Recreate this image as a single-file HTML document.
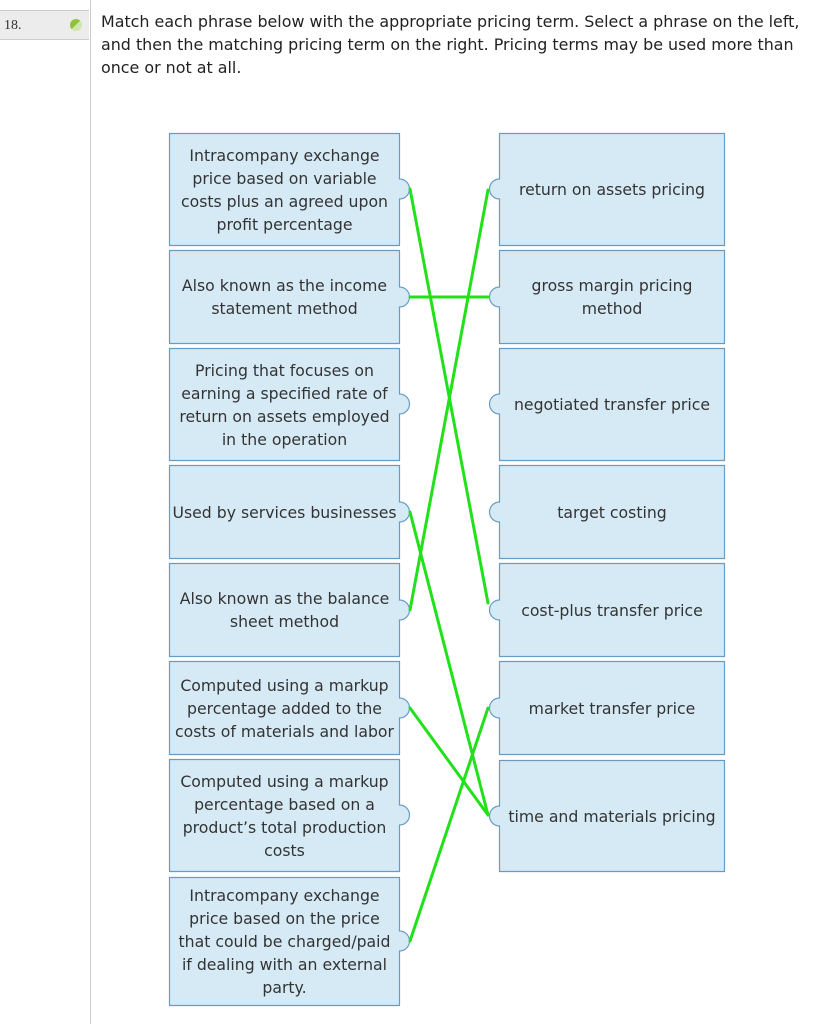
<!DOCTYPE html>
<html><head><meta charset="utf-8"><style>
body{margin:0;width:821px;height:1024px;background:#fff;position:relative;overflow:hidden;font-family:"DejaVu Sans","Liberation Sans",sans-serif;color:#333}
.num{position:absolute;left:0;top:10px;width:89px;height:30px;background:#ececec;border-top:1px solid #ccc;border-bottom:1px solid #ccc;font-family:"Liberation Serif",serif;font-size:14px;line-height:30px;padding-left:4px;box-sizing:border-box}
.dot{position:absolute;left:70px;top:19px;width:12px;height:12px;border-radius:50%;background:linear-gradient(135deg,#8fc23a 50%,#cfe6a8 50%)}
.div{position:absolute;left:90px;top:0;width:1px;height:1024px;background:#ccc}
.q{position:absolute;left:101px;top:10px;width:712px;font-size:15.9px;line-height:23px;color:#222;white-space:nowrap}
.t{position:absolute;display:flex;align-items:center;justify-content:center;text-align:center;font-size:15.7px;line-height:23px;color:#333;box-sizing:border-box;white-space:nowrap}
svg{position:absolute;left:0;top:0}
</style></head><body>
<div class="num">18.</div><div class="dot"></div><div class="div"></div>
<div class="q">Match each phrase below with the appropriate pricing term. Select a phrase on the left,<br>and then the matching pricing term on the right. Pricing terms may be used more than<br>once or not at all.</div>
<svg width="821" height="1024">
<g fill="#d6eaf6" stroke="#6a9cc2" stroke-width="1.2">
<path d="M169.5 133.5H399.5V179A10 10 0 0 1 399.5 199V245.5H169.5Z"/>
<path d="M169.5 250.5H399.5V287A10 10 0 0 1 399.5 307V343.5H169.5Z"/>
<path d="M169.5 348.5H399.5V394A10 10 0 0 1 399.5 414V460.5H169.5Z"/>
<path d="M169.5 465.5H399.5V502A10 10 0 0 1 399.5 522V558.5H169.5Z"/>
<path d="M169.5 563.5H399.5V600A10 10 0 0 1 399.5 620V656.5H169.5Z"/>
<path d="M169.5 661.5H399.5V698A10 10 0 0 1 399.5 718V754.5H169.5Z"/>
<path d="M169.5 759.5H399.5V805A10 10 0 0 1 399.5 825V871.5H169.5Z"/>
<path d="M169.5 877.5H399.5V931A10 10 0 0 1 399.5 951V1005.5H169.5Z"/>
<path d="M499.5 133.5H724.5V245.5H499.5V199A10 10 0 0 1 499.5 179Z"/>
<path d="M499.5 250.5H724.5V343.5H499.5V307A10 10 0 0 1 499.5 287Z"/>
<path d="M499.5 348.5H724.5V460.5H499.5V414A10 10 0 0 1 499.5 394Z"/>
<path d="M499.5 465.5H724.5V558.5H499.5V522A10 10 0 0 1 499.5 502Z"/>
<path d="M499.5 563.5H724.5V656.5H499.5V620A10 10 0 0 1 499.5 600Z"/>
<path d="M499.5 661.5H724.5V754.5H499.5V718A10 10 0 0 1 499.5 698Z"/>
<path d="M499.5 760.5H724.5V871.5H499.5V826A10 10 0 0 1 499.5 806Z"/>
</g>
<g stroke="#22e01a" stroke-width="3" stroke-linecap="round">
<line x1="410" y1="189" x2="488" y2="603"/>
<line x1="410" y1="297" x2="488" y2="297"/>
<line x1="410" y1="512" x2="488" y2="815"/>
<line x1="410" y1="610" x2="488" y2="190"/>
<line x1="410" y1="708" x2="488" y2="815"/>
<line x1="410" y1="941" x2="488" y2="708"/>
</g>
</svg>
<div class="t" style="left:170px;top:134px;width:229px;height:111px">Intracompany exchange<br>price based on variable<br>costs plus an agreed upon<br>profit percentage</div>
<div class="t" style="left:170px;top:251px;width:229px;height:92px">Also known as the income<br>statement method</div>
<div class="t" style="left:170px;top:349px;width:229px;height:111px">Pricing that focuses on<br>earning a specified rate of<br>return on assets employed<br>in the operation</div>
<div class="t" style="left:170px;top:466px;width:229px;height:92px">Used by services businesses</div>
<div class="t" style="left:170px;top:564px;width:229px;height:92px">Also known as the balance<br>sheet method</div>
<div class="t" style="left:170px;top:662px;width:229px;height:92px">Computed using a markup<br>percentage added to the<br>costs of materials and labor</div>
<div class="t" style="left:170px;top:760px;width:229px;height:111px">Computed using a markup<br>percentage based on a<br>product’s total production<br>costs</div>
<div class="t" style="left:170px;top:878px;width:229px;height:127px">Intracompany exchange<br>price based on the price<br>that could be charged/paid<br>if dealing with an external<br>party.</div>
<div class="t" style="left:500px;top:134px;width:224px;height:111px">return on assets pricing</div>
<div class="t" style="left:500px;top:251px;width:224px;height:92px">gross margin pricing<br>method</div>
<div class="t" style="left:500px;top:349px;width:224px;height:111px">negotiated transfer price</div>
<div class="t" style="left:500px;top:466px;width:224px;height:92px">target costing</div>
<div class="t" style="left:500px;top:564px;width:224px;height:92px">cost-plus transfer price</div>
<div class="t" style="left:500px;top:662px;width:224px;height:92px">market transfer price</div>
<div class="t" style="left:500px;top:761px;width:224px;height:110px">time and materials pricing</div>
</body></html>
